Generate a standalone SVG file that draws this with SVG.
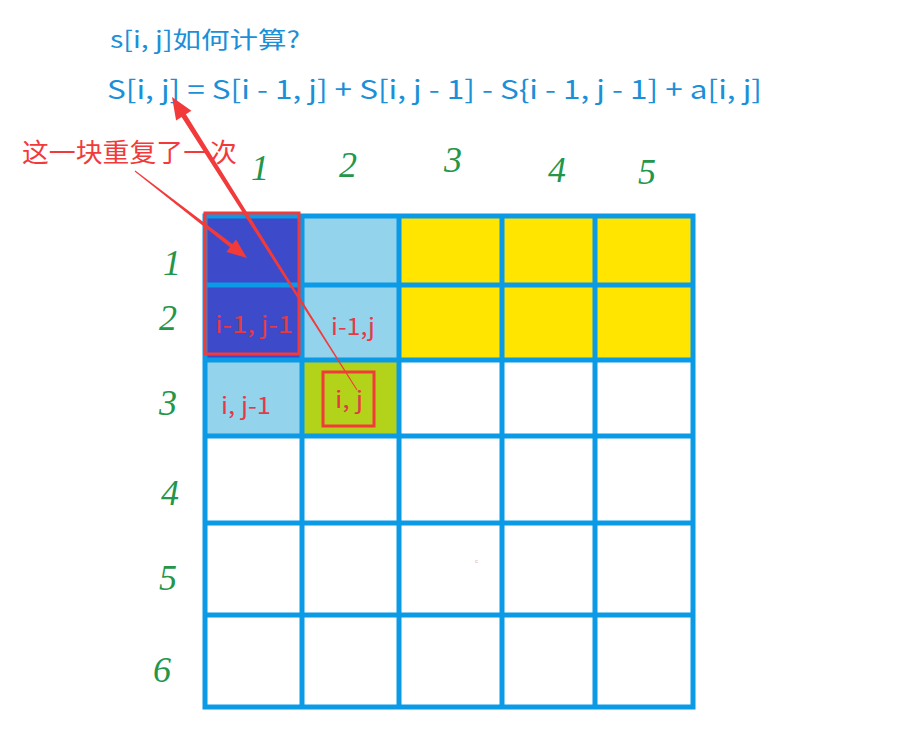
<svg xmlns="http://www.w3.org/2000/svg" width="924" height="748" viewBox="0 0 924 748">
<style>
.title{font-family:"Noto Sans CJK SC","Liberation Sans",sans-serif;fill:#1b90d8}
.grid{stroke:#0b9ae6;stroke-width:5;fill:none}
.hand{font-family:"Liberation Serif","Noto Sans",serif;font-style:italic;fill:#23964a;font-size:36px;text-anchor:middle}
.cell{font-family:"Noto Sans CJK SC","Liberation Sans",sans-serif;fill:#e43a48;font-size:23px;text-anchor:middle}
.red{fill:#f23a3a}
.box{fill:none;stroke:#f23a3a;stroke-width:3}
</style>
<rect width="924" height="748" fill="#ffffff"/>
<g id="title">
<text class="title" x="110" y="48" font-size="23" textLength="190" lengthAdjust="spacingAndGlyphs">s[i, j]如何计算?</text>
<text class="title" x="107" y="99" font-size="26" textLength="655" lengthAdjust="spacingAndGlyphs">S[i, j] = S[i - 1, j] + S[i, j - 1] - S{i - 1, j - 1] + a[i, j]</text>
</g>
<g id="note">
<text x="22" y="162" font-family="Noto Sans CJK SC, Liberation Sans, sans-serif" font-size="26" textLength="215" lengthAdjust="spacingAndGlyphs" class="red">这一块重复了一次</text>
</g>
<g id="cells">
<rect x="205" y="216" width="97" height="144" fill="#3d4ac9"/>
<rect x="302" y="216" width="97" height="144" fill="#93d3ec"/>
<rect x="205" y="360" width="97" height="76" fill="#93d3ec"/>
<rect x="302" y="360" width="97" height="76" fill="#b3d31b"/>
<rect x="399" y="216" width="294" height="144" fill="#ffe500"/>
</g>
<g id="grid" class="grid">
<rect x="205" y="216" width="488" height="491"/>
<line x1="302" y1="216" x2="302" y2="707"/>
<line x1="399" y1="216" x2="399" y2="707"/>
<line x1="502" y1="216" x2="502" y2="707"/>
<line x1="595" y1="216" x2="595" y2="707"/>
<line x1="205" y1="285" x2="693" y2="285"/>
<line x1="205" y1="360" x2="693" y2="360"/>
<line x1="205" y1="436" x2="693" y2="436"/>
<line x1="205" y1="523" x2="693" y2="523"/>
<line x1="205" y1="615" x2="693" y2="615"/>
</g>
<g id="col-labels" class="hand">
<text x="260" y="180">1</text>
<text x="348" y="177">2</text>
<text x="453" y="172">3</text>
<text x="557" y="182">4</text>
<text x="647" y="184">5</text>
</g>
<g id="row-labels" class="hand">
<text x="172" y="275">1</text>
<text x="168" y="330">2</text>
<text x="168" y="415">3</text>
<text x="170" y="505">4</text>
<text x="168" y="590">5</text>
<text x="162" y="682">6</text>
</g>
<g id="cell-labels" class="cell">
<text x="254" y="333" textLength="78" lengthAdjust="spacingAndGlyphs">i-1, j-1</text>
<text x="353" y="335" textLength="44" lengthAdjust="spacingAndGlyphs">i-1,j</text>
<text x="246" y="414" textLength="50" lengthAdjust="spacingAndGlyphs">i, j-1</text>
<text x="349" y="408" textLength="28" lengthAdjust="spacingAndGlyphs">i, j</text>
</g>
<g id="highlights">
<rect class="box" x="205" y="213" width="94" height="141"/>
<rect class="box" x="323" y="372" width="51" height="54"/>
</g>
<g id="connectors" class="red">
<polygon points="357.4,389.7 185.9,114.3 191.4,110.8 172,97 176.1,120.4 181.6,116.9 356.6,390.3"/>
<polygon points="134.7,171.4 230.0,247.3 226.3,252.0 247,258 236.1,239.4 232.4,244.1 135.3,170.6"/>
</g>
<text x="475" y="563" font-family="Liberation Sans, sans-serif" font-size="6" fill="#d8b4b4">c</text>
</svg>
